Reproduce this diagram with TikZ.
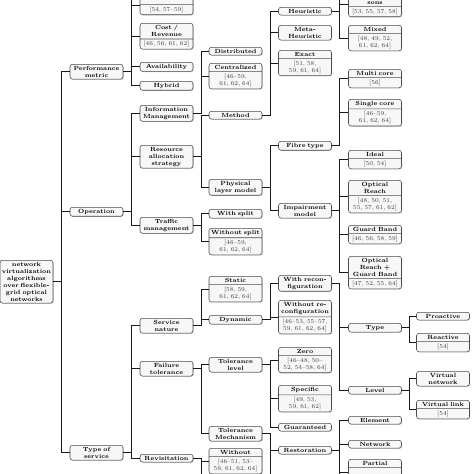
\documentclass[tikz,border=0pt]{standalone}
\usetikzlibrary{shapes.multipart,shadows}
\newcommand\refsx[1]{\mdseries\color{black!75}#1}
\newcommand\conx[2]{\draw[conn] (#1.east) -- ++(8,0) |- (#2.west);}
\newcommand\conc[2]{\draw[conn] (#1.east) -- ++(8,0) |- (#2);}
\tikzset{
  base/.style={draw=black!70, line width=0.55pt, fill=black!3, rounded corners=2.5pt,
    text width=50pt, align=center, inner xsep=1.5pt, inner ysep=1.8pt,
    font=\fontsize{6}{7}\selectfont\bfseries,
    drop shadow={shadow xshift=0.7pt, shadow yshift=-0.7pt, fill=black!40},
    anchor=north},
  leaf/.style={base},
  refbox/.style={base, rectangle split, rectangle split parts=2},
  conn/.style={draw=black!90, line width=0.75pt},
}
\begin{document}
\begin{tikzpicture}[x=1pt,y=-1pt]
\useasboundingbox (0,0) rectangle (474,474);
\fill[white] (0,0) rectangle (474,474);
\clip (0,0) rectangle (474,474);
% column 1-2
\node[leaf] (root) at (26.5,260) {network\\virtualization\\algorithms\\over flexible-\\grid optical\\networks};
\node[leaf] (pm) at (96.5,64) {Performance\\metric};
\node[leaf] (op) at (96.5,207) {Operation};
\node[leaf] (tos) at (96.5,445) {Type of\\service};
% column 3
\node[refbox, anchor=south] (pmx) at (166.5,15) {\phantom{X}\nodepart{two}\refsx{[54, 57--59]}};
\node[refbox] (cost) at (166.5,23) {Cost /\\Revenue\nodepart{two}\refsx{[46, 56, 61, 62]}};
\node[leaf] (avail) at (166.5,62) {Availability};
\node[leaf] (hybrid) at (166.5,81) {Hybrid};
\node[leaf] (im) at (166.5,105) {Information\\Management};
\node[leaf] (ras) at (166.5,145) {Resource\\allocation\\strategy};
\node[leaf] (tm) at (166.5,217) {Traffic\\management};
\node[leaf] (sn) at (166.5,318) {Service\\nature};
\node[leaf] (fail) at (166.5,361) {Failure\\tolerance};
\node[leaf] (rev) at (166.5,454) {Revisitation};
% column 4
\node[leaf] (dist) at (235.5,47) {Distributed};
\node[refbox] (cent) at (235.5,63) {Centralized\nodepart{two}\refsx{[46--59,\\61, 62, 64]}};
\node[leaf] (method) at (235.5,111) {Method};
\node[leaf] (plm) at (235.5,179) {Physical\\layer model};
\node[leaf] (wsplit) at (235.5,209) {With split};
\node[refbox] (wosplit) at (235.5,228) {Without split\nodepart{two}\refsx{[46--59,\\61, 62, 64]}};
\node[refbox] (static) at (235.5,276) {Static\nodepart{two}\refsx{[58, 59,\\61, 62, 64]}};
\node[leaf] (dyn) at (235.5,315) {Dynamic};
\node[leaf] (tl) at (235.5,357) {Tolerance\\level};
\node[leaf] (tmech) at (235.5,426) {Tolerance\\Mechanism};
\node[refbox] (without) at (235.5,448) {Without\nodepart{two}\refsx{[46--51, 53--\\59, 61, 62, 64]}};
% column 5
\node[leaf] (heur) at (305,7) {Heuristic};
\node[leaf] (meta) at (305,25) {Meta-\\Heuristic};
\node[refbox] (exact) at (305,50) {Exact\nodepart{two}\refsx{[51, 58,\\59, 61, 64]}};
\node[leaf] (fibre) at (305,141) {Fibre type};
\node[leaf] (imp) at (305,203) {Impairment\\model};
\node[leaf] (withrec) at (305,275) {With recon-\\figuration};
\node[refbox] (worec) at (305,300) {Without re-\\configuration\nodepart{two}\refsx{[46--53, 55--57,\\59, 61, 62, 64]}};
\node[refbox] (zero) at (305,347) {Zero\nodepart{two}\refsx{[46--48, 50--\\52, 54--58, 64]}};
\node[refbox] (spec) at (305,385) {Specific\nodepart{two}\refsx{[49, 53,\\59, 61, 62]}};
\node[leaf] (guar) at (305,423) {Guaranteed};
\node[leaf] (resto) at (305,446) {Restoration};
% column 6
\node[refbox, anchor=south] (sons) at (375,17) {\phantom{X}\\sons\nodepart{two}\refsx{[53, 55, 57, 58]}};
\node[refbox] (mixed) at (375,25) {Mixed\nodepart{two}\refsx{[48, 49, 52,\\61, 62, 64]}};
\node[refbox] (multi) at (375,69) {Multi core\nodepart{two}\refsx{[56]}};
\node[refbox] (single) at (375,99) {Single core\nodepart{two}\refsx{[46--59,\\61, 62, 64]}};
\node[refbox] (ideal) at (375,150) {Ideal\nodepart{two}\refsx{[50, 54]}};
\node[refbox] (oreach) at (375,180) {Optical\\Reach\nodepart{two}\refsx{[48, 50, 51,\\55, 57, 61, 62]}};
\node[refbox] (gband) at (375,225) {Guard Band\nodepart{two}\refsx{[46, 56, 58, 59]}};
\node[refbox] (orgb) at (375,256) {Optical\\Reach +\\Guard Band\nodepart{two}\refsx{[47, 52, 55, 64]}};
\node[leaf] (type) at (375,323) {Type};
\node[leaf] (level) at (375,386) {Level};
\node[leaf] (element) at (375,416) {Element};
\node[leaf] (network) at (375,440) {Network};
\node[refbox] (partial) at (375,459) {Partial\nodepart{two}\refsx{\phantom{[00]}\\\phantom{[00]}}};
% column 7
\node[leaf] (proactive) at (443,312) {Proactive};
\node[refbox] (reactive) at (443,333) {Reactive\nodepart{two}\refsx{[54]}};
\node[leaf] (vnet) at (443,371) {Virtual\\network};
\node[refbox] (vlink) at (443,400) {Virtual link\nodepart{two}\refsx{[54]}};
% off-picture ends
\coordinate (pmup) at (140,-30);
\coordinate (heurup) at (348,-30);
\coordinate (tmdown) at (278,500);
\coordinate (revdown) at (209,500);
\coordinate (resdown) at (348,500);
% connectors
\conx{root}{pm} \conx{root}{op} \conx{root}{tos}
\conx{pm}{pmx} \conc{pm}{pmup} \conx{pm}{cost} \conx{pm}{avail} \conx{pm}{hybrid}
\conx{op}{im} \conx{op}{ras} \conx{op}{tm}
\conx{tos}{sn} \conx{tos}{fail} \conx{tos}{rev}
\conx{im}{dist} \conx{im}{cent}
\conx{ras}{method} \conx{ras}{plm}
\conx{tm}{wsplit} \conx{tm}{wosplit}
\conx{sn}{static} \conx{sn}{dyn}
\conx{fail}{tl} \conx{fail}{tmech}
\conx{rev}{without} \conc{rev}{revdown}
\conx{method}{heur} \conx{method}{meta} \conx{method}{exact}
\conx{plm}{fibre} \conx{plm}{imp}
\conx{dyn}{withrec} \conx{dyn}{worec}
\conx{tl}{zero} \conx{tl}{spec} \conx{tl}{guar}
\conx{tmech}{resto} \conc{tmech}{tmdown}
\conx{heur}{sons} \conc{heur}{heurup} \conx{heur}{mixed}
\conx{fibre}{multi} \conx{fibre}{single}
\conx{imp}{ideal} \conx{imp}{oreach} \conx{imp}{gband} \conx{imp}{orgb}
\conx{withrec}{type} \conx{withrec}{level}
\conx{resto}{element} \conx{resto}{network} \conx{resto}{partial} \conc{resto}{resdown}
\conx{type}{proactive} \conx{type}{reactive}
\conx{level}{vnet} \conx{level}{vlink}
\end{tikzpicture}
\end{document}
